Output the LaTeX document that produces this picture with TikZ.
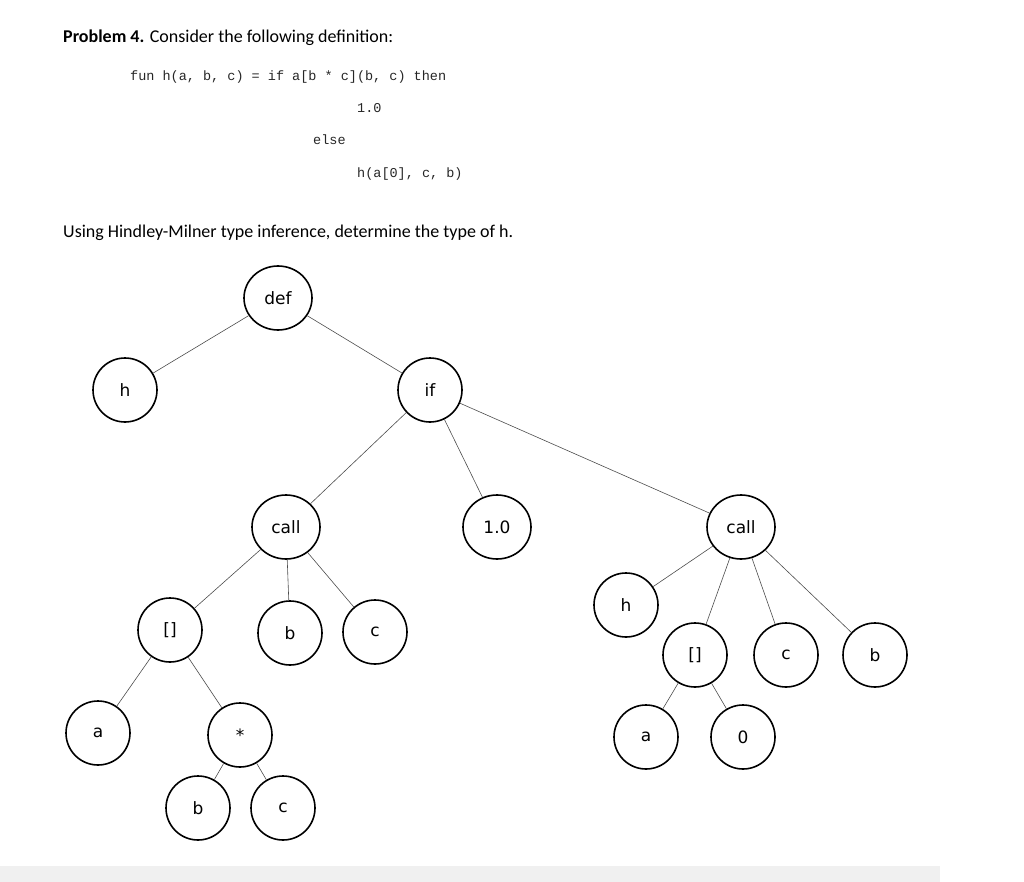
\documentclass[tikz,border=0pt]{standalone}
\usepackage{fontspec}
\usetikzlibrary{shapes.geometric}
\setmainfont{Carlito}
\newfontfamily\treefont{DejaVu Sans}
\newfontfamily\codefont{Liberation Mono}
\begin{document}
\begin{tikzpicture}[x=1pt,y=-1pt,
  tn/.style={draw,ellipse,line width=1.6pt,minimum width=64pt,minimum height=64pt,inner sep=0pt,font=\treefont\fontsize{17}{17}\selectfont},
  tw/.style={tn,minimum width=68pt},
  ed/.style={draw=black!70,line width=0.6pt},
  code/.style={anchor=base west,inner sep=0pt,font=\codefont\fontsize{13.5}{13.5}\selectfont,text=black!85}]
\useasboundingbox (0,0) rectangle (1024,882);
\fill[black!6] (0,866) rectangle (940,882);
\node[anchor=base west,inner sep=0pt,font=\fontsize{18}{18}\selectfont] (t1) at (63,43) {\textbf{Problem 4.} Consider the following definition:};
\node[code] (c1) at (130,81) {fun h(a, b, c) = if a[b * c](b, c) then};
\node[code] (c2) at (357,113) {1.0};
\node[code] (c3) at (313,145) {else};
\node[code] (c4) at (357,178) {h(a[0], c, b)};
\node[anchor=base west,inner sep=0pt,font=\fontsize{18}{18}\selectfont] (t2) at (63,238) {Using Hindley-Milner type inference, determine the type of h.};
\node[tw] (def) at (278,298) {def};
\node[tn] (h) at (125,390) {h};
\node[tn] (if) at (430,390) {if};
\node[tw] (call) at (286,527) {call};
\node[tw] (one) at (497,527) {1.0};
\node[tw] (call2) at (741,527) {call};
\node[tn] (br) at (170,630) {[]};
\node[tn] (b) at (290,633) {b};
\node[tn] (c) at (375,632) {c};
\node[tn] (h2) at (626,605) {h};
\node[tn] (br2) at (695,655) {[]};
\node[tn] (cc) at (786,655) {c};
\node[tn] (b2) at (875,655) {b};
\node[tn] (a) at (98,733) {a};
\node[tn] (st) at (240,735) {*};
\node[tn] (a2) at (646,737) {a};
\node[tn] (z) at (743,737) {0};
\node[tn] (b3) at (198,808) {b};
\node[tn] (c5) at (283,808) {c};
\foreach \u/\v in {def/h,def/if,if/call,if/one,if/call2,call/br,call/b,call/c,br/a,br/st,st/b3,st/c5,call2/h2,call2/br2,call2/cc,call2/b2,br2/a2,br2/z}
  \draw[ed] (\u) -- (\v);
\end{tikzpicture}
\end{document}
